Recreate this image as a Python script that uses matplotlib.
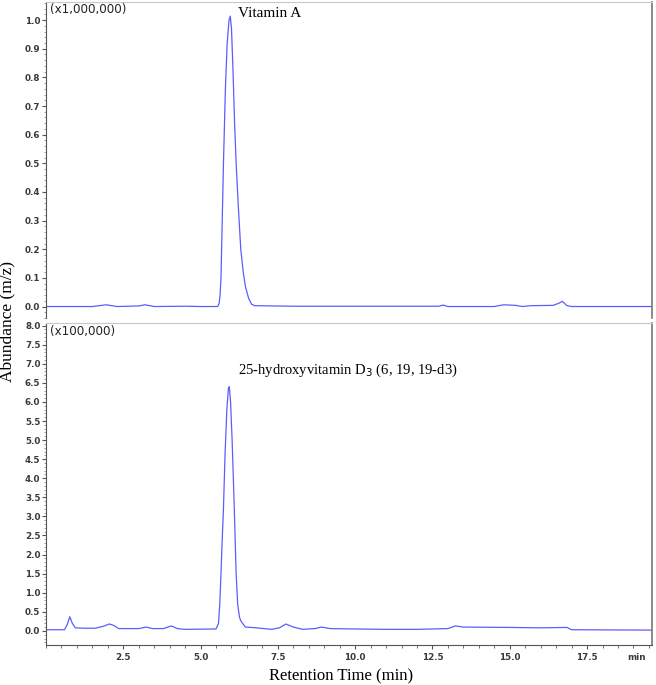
import matplotlib
matplotlib.use("Agg")
import matplotlib.pyplot as plt
from matplotlib.ticker import MultipleLocator

# ---- data ----
top_time = [0.0, 1.5, 1.95, 2.3, 3.0, 3.2, 3.5, 4.5, 5.0, 5.55, 5.6, 5.63, 5.66, 5.70,
            5.74, 5.80, 5.86, 5.92, 5.96, 6.00, 6.05, 6.10, 6.15, 6.22, 6.30, 6.38,
            6.45, 6.55, 6.65, 6.75, 8.0, 12.7, 12.85, 13.0, 14.5, 14.8, 15.2, 15.4,
            15.7, 16.4, 16.6, 16.7, 16.85, 17.0, 19.6]
top_abund = [0.0, 0.0, 0.006, 0.0, 0.002, 0.006, 0.0, 0.001, 0.0, 0.0, 0.01, 0.04, 0.1, 0.3,
             0.5, 0.75, 0.92, 1.0, 1.014, 0.97, 0.82, 0.64, 0.5, 0.35, 0.2, 0.12,
             0.07, 0.03, 0.008, 0.003, 0.001, 0.001, 0.005, 0.0, 0.0, 0.006, 0.004, 0.0,
             0.003, 0.004, 0.012, 0.018, 0.003, 0.0, 0.0]

bot_time = [0.0, 0.6, 0.68, 0.77, 0.85, 0.95, 1.2, 1.6, 1.85, 2.05, 2.2, 2.35, 3.0, 3.24,
            3.45, 3.8, 4.05, 4.25, 4.5, 5.5, 5.58, 5.62, 5.66, 5.70, 5.74, 5.79, 5.85,
            5.90, 5.93, 5.97, 6.02, 6.06, 6.09, 6.15, 6.20, 6.26, 6.31, 6.45, 6.8, 7.3,
            7.55, 7.76, 8.0, 8.3, 8.7, 8.9, 9.2, 10.0, 11.0, 12.0, 13.0, 13.24, 13.5,
            15.0, 16.0, 16.85, 17.0, 19.6]
bot_abund = [0.03, 0.03, 0.15, 0.37, 0.2, 0.08, 0.07, 0.07, 0.12, 0.18, 0.14, 0.06, 0.06, 0.1,
             0.06, 0.06, 0.13, 0.06, 0.04, 0.05, 0.2, 0.7, 1.5, 2.4, 3.2, 4.6, 5.8,
             6.35, 6.40, 6.0, 5.0, 4.0, 3.2, 1.5, 0.7, 0.35, 0.25, 0.1, 0.08, 0.04,
             0.08, 0.18, 0.1, 0.04, 0.06, 0.1, 0.06, 0.05, 0.04, 0.04, 0.06, 0.13, 0.1,
             0.09, 0.08, 0.09, 0.03, 0.02]

x_ticks = [2.5, 5.0, 7.5, 10.0, 12.5, 15.0, 17.5]
x_tick_labels = ["2.5", "5.0", "7.5", "10.0", "12.5", "15.0", "17.5"]
top_yticks = [0.0, 0.1, 0.2, 0.3, 0.4, 0.5, 0.6, 0.7, 0.8, 0.9, 1.0]
bot_yticks = [0.0, 0.5, 1.0, 1.5, 2.0, 2.5, 3.0, 3.5, 4.0, 4.5, 5.0, 5.5, 6.0, 6.5, 7.0, 7.5, 8.0]

line_color = "#5c5cff"
tick_font = {"family": "DejaVu Sans", "size": 6.3, "weight": "bold", "color": "#3a3a3a"}

fig = plt.figure(figsize=(6.56, 6.85), dpi=100)
ax1 = fig.add_axes([0.0701, 0.5358, 0.9238, 0.4612])
ax2 = fig.add_axes([0.0701, 0.0584, 0.9238, 0.4701])

for ax in (ax1, ax2):
    ax.set_xlim(0, 19.6)
    ax.spines["left"].set_color("#555555")
    ax.spines["right"].set_color("#777777")
    ax.spines["top"].set_color("#c8c8c8")
    ax.spines["bottom"].set_color("#c8c8c8")
    ax.spines["right"].set_linewidth(1.2)
    ax.tick_params(axis="y", which="major", length=3, width=0.8, color="#555555", pad=1)
    ax.tick_params(axis="y", which="minor", length=1.8, width=0.5, color="#777777")
    ax.tick_params(axis="x", which="major", length=3, width=0.8, color="#555555", pad=3)
    ax.tick_params(axis="x", which="minor", length=2, width=0.6, color="#555555")

# top panel
ax1.plot(top_time, top_abund, color=line_color, lw=0.9)
ax1.set_ylim(-0.04, 1.063)
ax1.set_yticks(top_yticks)
ax1.set_yticklabels([f"{v:.1f}" for v in top_yticks], fontdict=tick_font)
ax1.yaxis.set_minor_locator(MultipleLocator(0.02))
ax1.set_xticks([])
ax1.spines["bottom"].set_visible(False)
ax1.text(0.007, 0.997, "(x1,000,000)", transform=ax1.transAxes, ha="left", va="top",
         family="DejaVu Sans", fontsize=8.6, color="#222222")
ax1.text(6.2, 1.045, "Vitamin A", ha="left", va="top", family="Liberation Serif",
         fontsize=11, color="black")

# bottom panel
ax2.plot(bot_time, bot_abund, color=line_color, lw=0.9)
ax2.set_ylim(-0.37, 8.07)
ax2.set_yticks(bot_yticks)
ax2.set_yticklabels([f"{v:.1f}" for v in bot_yticks], fontdict=tick_font)
ax2.yaxis.set_minor_locator(MultipleLocator(0.1))
ax2.set_xticks(x_ticks + [19.1])
ax2.set_xticklabels(x_tick_labels + ["min"], fontdict=tick_font)
ax2.xaxis.get_major_ticks()[-1].tick1line.set_visible(False)
ax2.xaxis.set_minor_locator(MultipleLocator(0.5))
ax2.spines["bottom"].set_color("#555555")
ax2.text(0.007, 0.995, "(x100,000)", transform=ax2.transAxes, ha="left", va="top",
         family="DejaVu Sans", fontsize=8.6, color="#222222")
ax2.text(6.2, 7.05, "25-hydroxyvitamin D$_3$ (6, 19, 19-d3)", ha="left", va="top",
         family="Liberation Serif", fontsize=10.5, color="black")

fig.text(0.012, 0.530, "Abundance (m/z)", rotation=90, ha="center", va="center",
         family="Liberation Serif", fontsize=12.5)
fig.text(0.52, 0.013, "Retention Time (min)", ha="center", va="center",
         family="Liberation Serif", fontsize=12)

fig.savefig("out.png", dpi=100)
